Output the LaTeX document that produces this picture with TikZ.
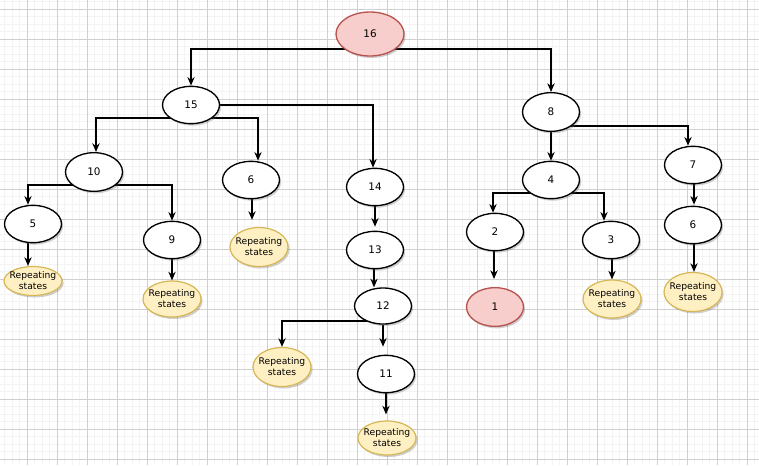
\documentclass[tikz,border=0pt]{standalone}
\usepackage{fontspec}
\setmainfont{DejaVu Sans}
\usetikzlibrary{shapes.geometric,arrows.meta,calc,shadows,backgrounds}
\definecolor{pinkfill}{HTML}{F8CECC}
\definecolor{pinkline}{HTML}{B85450}
\definecolor{yelfill}{HTML}{FFF0C4}
\definecolor{yelline}{HTML}{D6B656}
\definecolor{gridmaj}{HTML}{D0D0D0}
\definecolor{gridmin}{HTML}{F4F4F4}
\begin{document}
\begin{tikzpicture}[x=0.75pt,y=-0.75pt,
  shd/.style={drop shadow={shadow xshift=1.2pt,shadow yshift=-1.5pt,opacity=0.3,fill=black!60}},
  num/.style={ellipse,draw=black,line width=1pt,fill=white,minimum width=42.75pt,minimum height=28pt,inner sep=0pt,font=\fontsize{7.8}{9}\selectfont,shd},
  hot/.style={num,fill=pinkfill,draw=pinkline},
  rep/.style={ellipse,draw=yelline,line width=0.9pt,fill=yelfill,minimum width=43.5pt,minimum height=28pt,inner xsep=-4pt,inner ysep=0pt,align=center,font=\fontsize{6.9}{8.2}\selectfont,shd},
  arr/.style={draw=black,line width=1pt,-{Stealth[length=6.5pt,width=5.5pt]}},
  gmaj/.style={draw=gridmaj,line width=0.75pt},
  gmin/.style={draw=gridmin,line width=0.5pt}
]
\useasboundingbox (0,0) rectangle (759,465);

% nodes
\node[hot,minimum width=51pt,minimum height=33pt] (n16) at (370,34) {16};
\node[num] (n15) at (191,105) {15};
\node[num,minimum height=29pt] (n10) at (94,172) {10};
\node[num] (n5) at (33,224) {5};
\node[num] (n9) at (172,240) {9};
\node[num] (n6a) at (251,180) {6};
\node[num] (n14) at (375,187) {14};
\node[num] (n13) at (375,250) {13};
\node[num,minimum height=27pt] (n12) at (383,306) {12};
\node[num] (n11) at (386,374) {11};
\node[num,minimum height=29pt] (n8) at (551,112) {8};
\node[num] (n4) at (551,180) {4};
\node[num] (n2) at (495,232) {2};
\node[hot,minimum height=29pt] (n1) at (495,307) {1};
\node[num] (n3) at (611,240) {3};
\node[num] (n7) at (693,165) {7};
\node[num] (n6b) at (693,225) {6};

\node[rep,minimum height=21.75pt] (r5) at (33,281) {Repeating\\states};
\node[rep,minimum height=27pt] (r9) at (172,299) {Repeating\\states};
\node[rep,minimum height=29.25pt] (r6a) at (259,247) {Repeating\\states};
\node[rep,minimum height=29.25pt] (r12) at (282,367) {Repeating\\states};
\node[rep,minimum height=25.5pt] (r11) at (387,438) {Repeating\\states};
\node[rep,minimum height=28.5pt] (r3) at (612,299) {Repeating\\states};
\node[rep,minimum height=29.25pt] (r6b) at (693,292) {Repeating\\states};

\begin{pgfonlayer}{background}
  \fill[white] (0,0) rectangle (759,465);
  \foreach \x in {4.5,12,...,759} \draw[gmin] (\x,0) -- (\x,465);
  \foreach \y in {1.5,9,...,465} \draw[gmin] (0,\y) -- (759,\y);
  \foreach \x in {27,57,...,759} \draw[gmaj] (\x,0) -- (\x,465);
  \foreach \y in {9,39,...,465} \draw[gmaj] (0,\y) -- (759,\y);

  % edges
  \draw[arr] ($(n16.center)+(0,15)$) -| (n15.north);
  \draw[arr] ($(n16.center)+(0,15)$) -| (n8.north);
  \draw[arr] ($(n15.center)+(0,13)$) -| ($(n10.north)+(2,0)$);
  \draw[arr] ($(n15.center)+(0,13)$) -| ($(n6a.north)+(7,0)$);
  \draw[arr] (n15.center) -| ($(n14.north)+(-2,0)$);
  \draw[arr] ($(n10.center)+(0,13)$) -| ($(n5.north)+(-5,0)$);
  \draw[arr] ($(n10.center)+(0,13)$) -| (n9.north);
  \draw[arr] ($(n5.south)+(-5,0)$) -- ($(r5.north)+(-5,0)$);
  \draw[arr] (n9.south) -- (r9.north);
  \draw[arr] ($(n6a.south)+(1,0)$) -- ($(r6a.north)+(-7,-7)$);
  \draw[arr] (n14.south) -- ($(n13.north)+(0,-4)$);
  \draw[arr] ($(n13.south)+(-1,0)$) -- ($(n12.north)+(-9,0)$);
  \draw[arr] ($(n12.center)+(0,15)$) -| (r12.north);
  \draw[arr] (n12.south) -- ($(n11.north)+(-3,-8)$);
  \draw[arr] (n11.south) -- ($(r11.north)+(-1,-6)$);
  \draw[arr] (n8.south) -- (n4.north);
  \draw[arr] ($(n8.center)+(0,14)$) -| ($(n7.north)+(-5,0)$);
  \draw[arr] ($(n4.center)+(0,13)$) -| ($(n2.north)+(-2,0)$);
  \draw[arr] ($(n4.center)+(0,13)$) -| ($(n3.north)+(-7,0)$);
  \draw[arr] ($(n2.south)+(-1,0)$) -- ($(n1.north)+(-1,-8)$);
  \draw[arr] ($(n3.south)+(1,0)$) -- (r3.north);
  \draw[arr] ($(n7.south)+(1,0)$) -- ($(n6b.north)+(1,-1)$);
  \draw[arr] ($(n6b.south)+(1,0)$) -- ($(r6b.north)+(1,0)$);
\end{pgfonlayer}
\end{tikzpicture}
\end{document}
